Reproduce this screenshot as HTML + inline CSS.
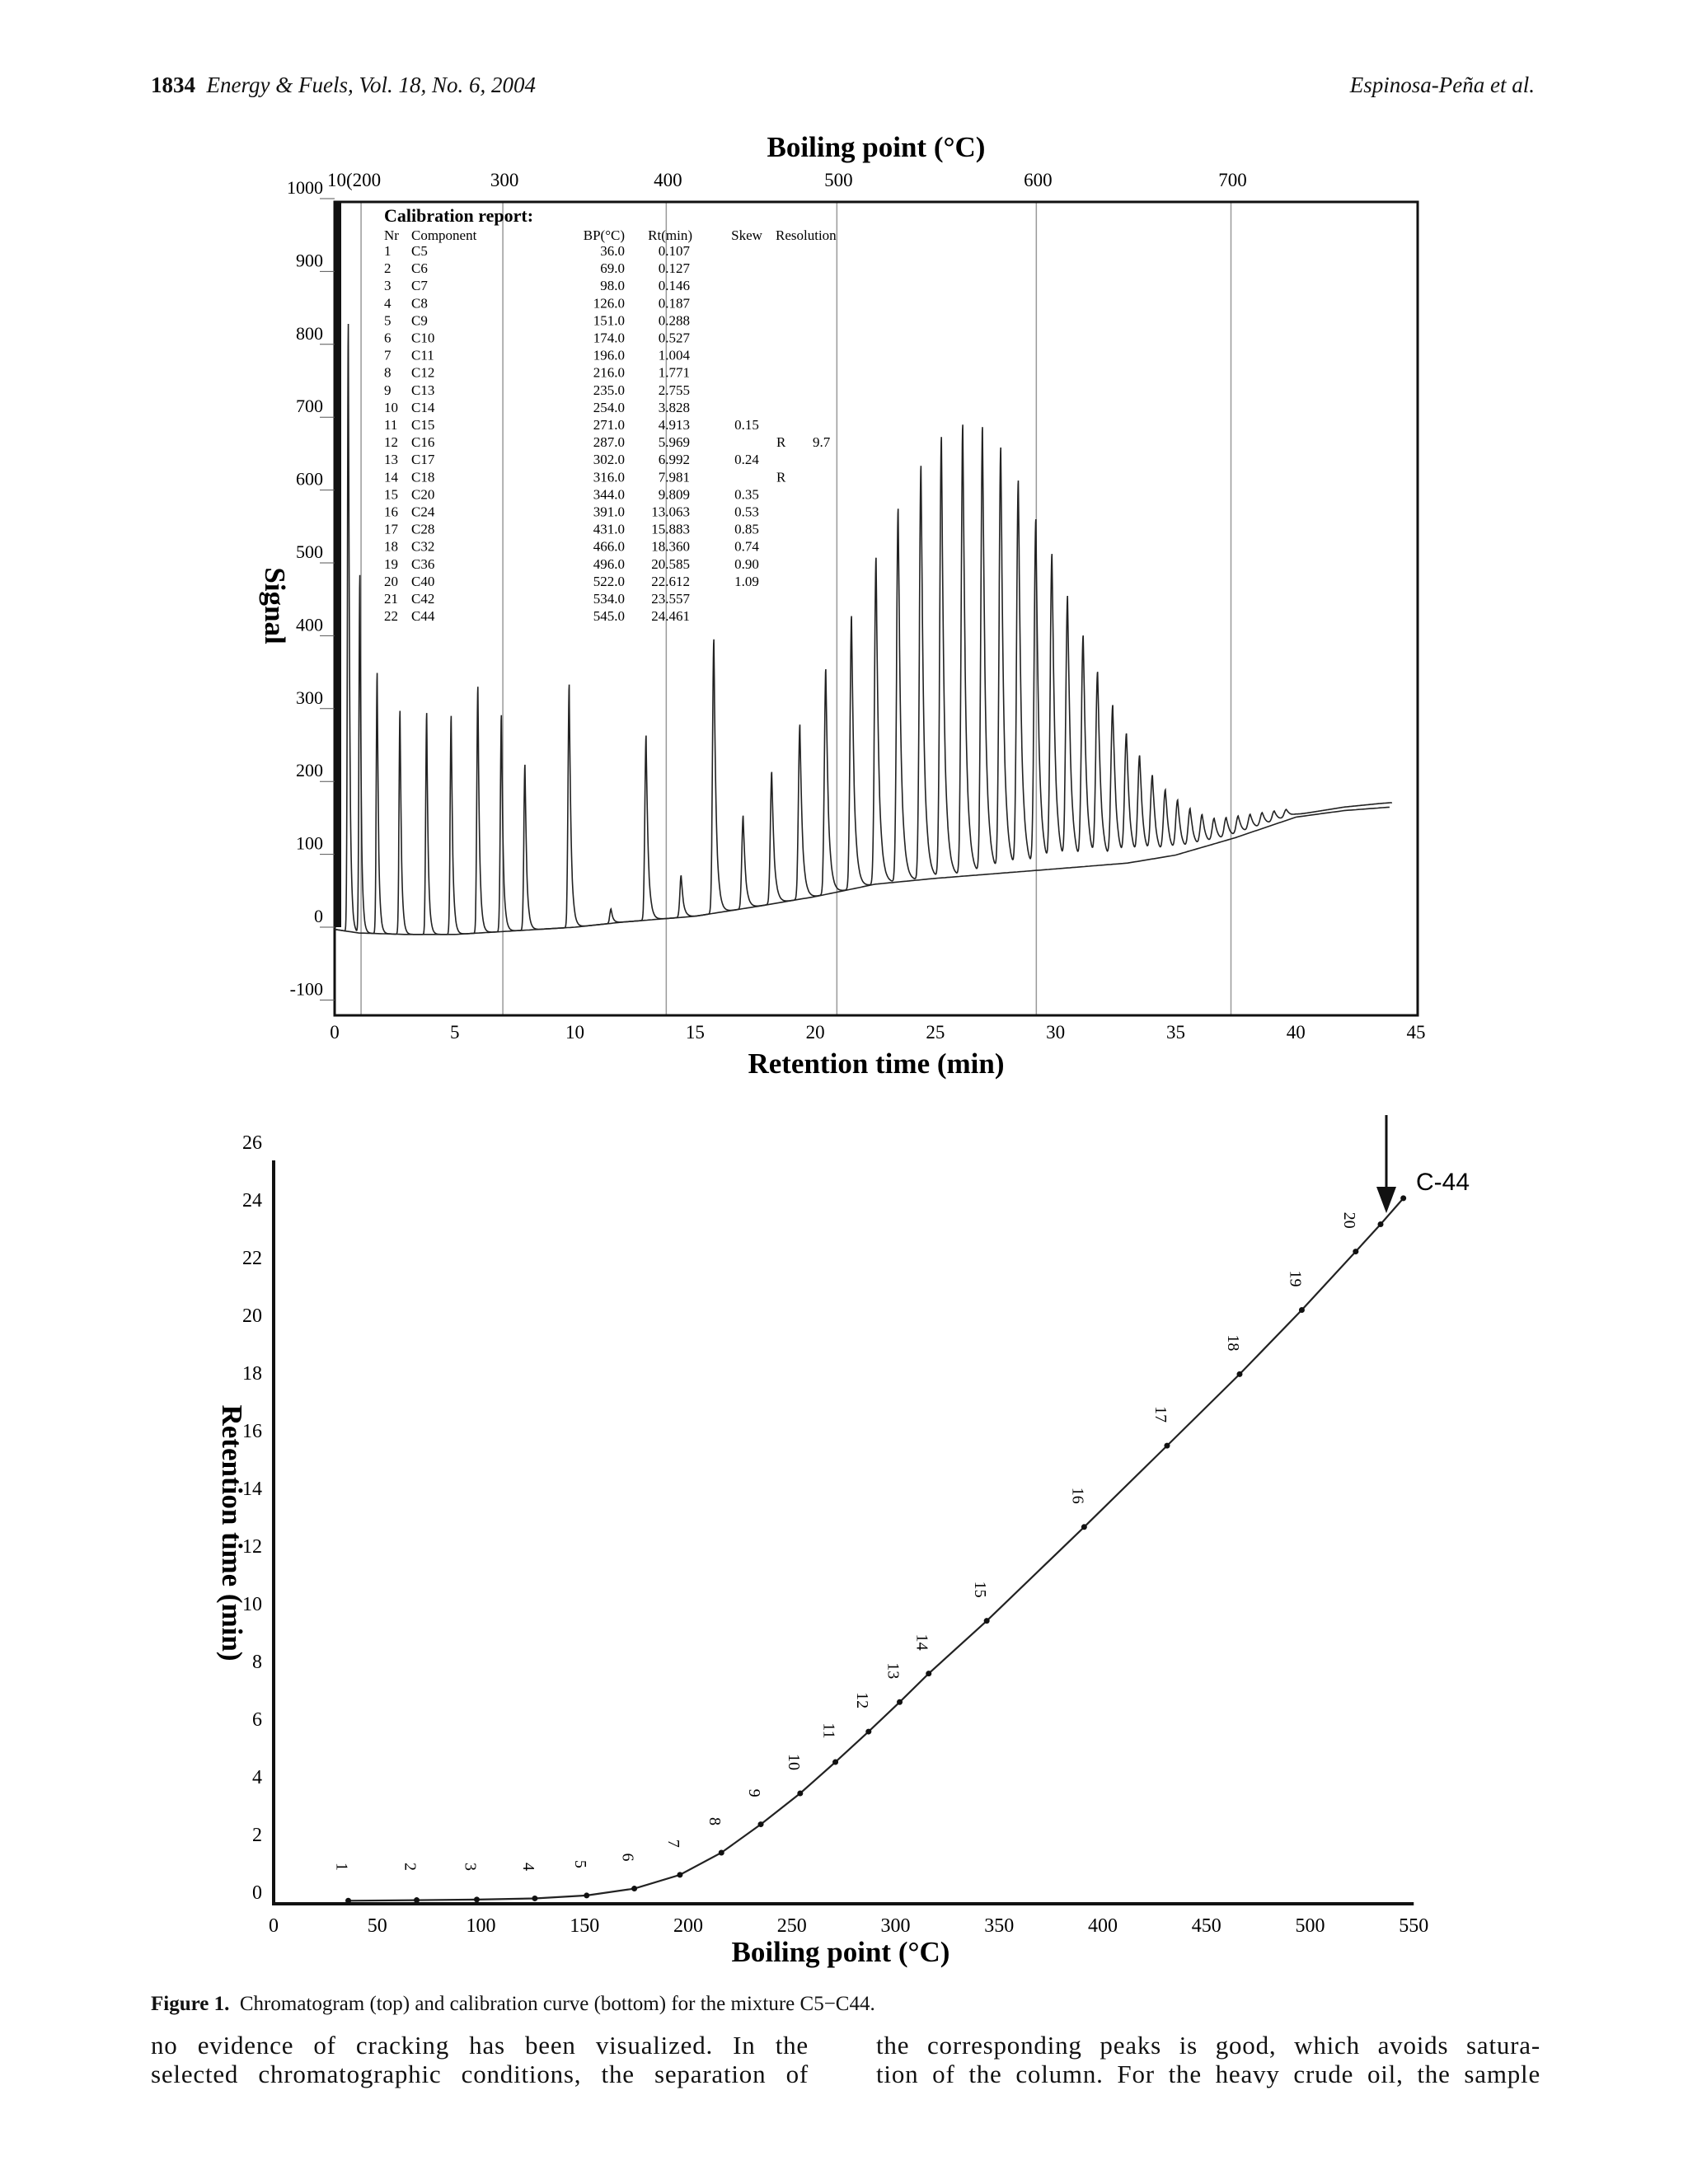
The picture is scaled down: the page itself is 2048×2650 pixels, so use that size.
<!DOCTYPE html>
<html><head><meta charset="utf-8"><style>
html,body{margin:0;padding:0;background:#fff;}
body{width:2048px;height:2650px;position:relative;overflow:hidden;font-family:"Liberation Serif",serif;color:#111;}
.hdr{position:absolute;top:88px;font-size:27px;}
.body{position:absolute;font-size:31px;line-height:35px;letter-spacing:0.8px;text-align:justify;text-align-last:justify;}
</style></head><body>
<div class="hdr" style="left:183px"><b>1834</b>&nbsp;&nbsp;<i>Energy &amp; Fuels, Vol. 18, No. 6, 2004</i></div>
<div class="hdr" style="right:186px"><i>Espinosa-Peña et al.</i></div>

<svg id="chrom" width="2048" height="2650" style="position:absolute;left:0;top:0" font-family="Liberation Serif, serif"></svg>

<div style="position:absolute;left:183px;top:2418px;font-size:25px;"><b>Figure 1.</b>&nbsp; Chromatogram (top) and calibration curve (bottom) for the mixture C5−C44.</div>
<div class="body" style="left:183px;top:2464px;width:798px">no evidence of cracking has been visualized. In the<br>selected chromatographic conditions, the separation of</div>
<div class="body" style="left:1063px;top:2464px;width:806px">the corresponding peaks is good, which avoids satura-<br>tion of the column. For the heavy crude oil, the sample</div>

<script>
// ---------- Chromatogram data ----------
const peakTimes = [0.57,1.05,1.77,2.72,3.83,4.85,5.96,6.94,7.92,9.76,11.5,12.96,14.42,15.78,17.0,18.19,19.36,20.44,21.51,22.53,23.45,24.4,25.25,26.14,26.96,27.72,28.45,29.18,29.85,30.5,31.15,31.75,32.38,32.95,33.5,34.03,34.57,35.08,35.6,36.1,36.6,37.1,37.6,38.1,38.6,39.1,39.6];
const peakHeights = [828,483,349,297,294,290,330,291,223,333,25,263,71,395,153,213,278,354,427,507,574,633,672,689,685,656,610,557,508,450,396,345,301,261,231,204,185,171,160,152,147,148,150,152,154,156,158];
const baseTimes = [0,1,3,5,7,10,12,15,17.5,20,22.5,25,30,33,35,37.5,40,42,44];
const baseValues = [-3,-8,-10,-10,-6,0,7,15,28,42,59,67,80,88,99,123,151,160,165];
const xTicks = [0,5,10,15,20,25,30,35,40,45];
const yTicks = [-100,0,100,200,300,400,500,600,700,800,900,1000];
const bpTicks = ["300","400","500","600","700"];
const bpTickTimes = [7.0,13.8,20.9,29.2,37.3];
// ---------- Calibration data ----------
const compNr = [1,2,3,4,5,6,7,8,9,10,11,12,13,14,15,16,17,18,19,20,21,22];
const compNames = ["C5","C6","C7","C8","C9","C10","C11","C12","C13","C14","C15","C16","C17","C18","C20","C24","C28","C32","C36","C40","C42","C44"];
const boilingPoints = [36,69,98,126,151,174,196,216,235,254,271,287,302,316,344,391,431,466,496,522,534,545];
const retTimes = [0.107,0.127,0.146,0.187,0.288,0.527,1.004,1.771,2.755,3.828,4.913,5.969,6.992,7.981,9.809,13.063,15.883,18.360,20.585,22.612,23.557,24.461];
const skews = ["","","","","","","","","","","0.15","","0.24","","0.35","0.53","0.85","0.74","0.90","1.09","",""];
const bpAxisTicks=[0,50,100,150,200,250,300,350,400,450,500,550];
const rtAxisTicks=[0,2,4,6,8,10,12,14,16,18,20,22,24,26];

const NS="http://www.w3.org/2000/svg";
const svg=document.getElementById('chrom');
function mk(tag,attrs,parent){const e=document.createElementNS(NS,tag);for(const k in attrs)e.setAttribute(k,attrs[k]);(parent||svg).appendChild(e);return e;}
function txt(s,attrs,parent){const e=mk('text',attrs,parent);e.textContent=s;return e;}
const X=t=>406+t*(1718-406)/45;
const Y=v=>1125-v*0.884;
function baseAt(t){for(let i=1;i<baseTimes.length;i++){if(t<=baseTimes[i]){const f=(t-baseTimes[i-1])/(baseTimes[i]-baseTimes[i-1]);return baseValues[i-1]+f*(baseValues[i]-baseValues[i-1]);}}return baseValues[baseValues.length-1];}

(function(){
const g=mk('g',{});


bpTickTimes.forEach((t,i)=>{
  const l=mk('line',{x1:X(t),x2:X(t),y1:245,y2:1232,stroke:'#999','stroke-width':1.5},g);
  
  
  const tl=txt(bpTicks[i],{x:X(t)+2,y:226,'font-size':23,'text-anchor':'middle'},g);
  
  
});
const gl=mk('line',{x1:X(1.1),x2:X(1.1),y1:245,y2:1232,stroke:'#999','stroke-width':1.5},g);


const t0=txt('10(200',{x:397,y:226,'font-size':23},g);


const fr=mk('rect',{x:406,y:245,width:1314,height:987,fill:'none',stroke:'#111','stroke-width':3},g);


yTicks.forEach(v=>{
  const tl=txt(String(v),{x:392,y:Y(v)-6,'font-size':22,'text-anchor':'end'},g);
  
  
  const tk=mk('line',{x1:388,x2:406,y1:Y(v),y2:Y(v),stroke:'#555','stroke-width':1},g);
  
  
});
xTicks.forEach(v=>{
  const tl=txt(String(v),{x:X(v),y:1260,'font-size':23,'text-anchor':'middle'},g);
  
  
});
let e=txt('Boiling point (°C)',{x:1063,y:190,'font-size':35,'font-weight':'bold','text-anchor':'middle'},g);


e=txt('Retention time (min)',{x:1063,y:1302,'font-size':35,'font-weight':'bold','text-anchor':'middle'},g);


e=txt('Signal',{x:0,y:0,'font-size':35,'font-weight':'bold','text-anchor':'middle',transform:'translate(322,735) rotate(90)'},g);


e=mk('rect',{x:X(0)+1,y:245,width:7,height:Y(0)-245,fill:'#111'},g);


let d='';
for(let t=0;t<=44;t+=0.1){d+=(t?'L':'M')+X(t).toFixed(1)+','+Y(baseAt(t)).toFixed(1);}
e=mk('path',{d:d,fill:'none',stroke:'#222','stroke-width':1.6},g);


d='';
for(let i=0;i<=4400;i++){
  const t=i/100;let v=baseAt(t);
  if(t>36)v+=Math.min(6,(t-36)*0.8);
  for(let k=0;k<peakTimes.length;k++){
    const dt=t-peakTimes[k];const amp=Math.max(0,peakHeights[k]-baseAt(peakTimes[k]));
    if(dt<-0.3||dt>2)continue;
    const sg=0.035+0.0012*peakTimes[k], tau=0.06+0.003*peakTimes[k];
    v+=amp*(dt<0?Math.exp(-(dt*dt)/(2*sg*sg)):Math.exp(-dt/tau)*0.85+0.15*Math.exp(-(dt*dt)/(2*sg*sg)));
  }
  d+=(i?'L':'M')+X(t).toFixed(1)+','+Y(v).toFixed(1);
}
e=mk('path',{d:d,fill:'none',stroke:'#222','stroke-width':1.6},g);


const tb=mk('g',{'font-size':17},g);


e=txt('Calibration report:',{x:466,y:269,'font-size':22,'font-weight':'bold'},tb);


const hy=291;
[['Nr',466,'start'],['Component',499,'start'],['BP(°C)',758,'end'],['Rt(min)',840,'end'],['Skew',906,'middle'],['Resolution',941,'start']].forEach(h=>{
  const el=txt(h[0],{x:h[1],y:hy,'text-anchor':h[2]},tb);
  
  
});
compNr.forEach((n,i)=>{
  const y=310+i*21.1;
  let el=txt(String(n),{x:466,y:y},tb);
  
  
  el=txt(compNames[i],{x:499,y:y},tb);
  
  
  el=txt(boilingPoints[i].toFixed(1),{x:758,y:y,'text-anchor':'end'},tb);
  
  
  el=txt(retTimes[i].toFixed(3),{x:837,y:y,'text-anchor':'end'},tb);
  
  
  if(skews[i]){el=txt(skews[i],{x:906,y:y,'text-anchor':'middle'},tb);
  
  }
});
e=txt('R',{x:942,y:310+11*21.1},tb);
e=txt('9.7',{x:986,y:310+11*21.1},tb);
e=txt('R',{x:942,y:310+13*21.1},tb);
})();

(function(){
const BX=b=>332+b*2.515;
const BY=r=>2310-r*35;
const g=mk('g',{});


let e=mk('line',{x1:332,x2:332,y1:BY(26)+8,y2:2312,stroke:'#111','stroke-width':4},g);

e=mk('line',{x1:330,x2:BX(550),y1:2310,y2:2310,stroke:'#111','stroke-width':4},g);

rtAxisTicks.forEach(v=>{
  const t=txt(String(v),{x:318,y:BY(v)-6,'font-size':24,'text-anchor':'end'},g);
  
});
bpAxisTicks.forEach(v=>{
  const t=txt(String(v),{x:BX(v),y:2344,'font-size':24,'text-anchor':'middle'},g);
  
});
e=txt('Boiling point (°C)',{x:1020,y:2380,'font-size':35,'font-weight':'bold','text-anchor':'middle'},g);

e=txt('Retention time (min)',{x:0,y:0,'font-size':35,'font-weight':'bold','text-anchor':'middle',transform:'translate(270,1860) rotate(90)'},g);

let d='';
boilingPoints.forEach((b,i)=>{d+=(i?'L':'M')+BX(b).toFixed(1)+','+BY(retTimes[i]).toFixed(1);});
e=mk('path',{d:d,fill:'none',stroke:'#222','stroke-width':2.2},g);

boilingPoints.forEach((b,i)=>{
  const c=mk('circle',{cx:BX(b),cy:BY(retTimes[i]),r:3.5,fill:'#111'},g);
  
  
  if(i<20){
    const ly=Math.min(BY(retTimes[i])-38,2265);
    const t=txt(String(compNr[i]),{x:0,y:0,'font-size':20,'text-anchor':'middle',transform:`translate(${BX(b)-14},${ly}) rotate(90)`},g);
    
    
  }
});
e=mk('line',{x1:1682,x2:1682,y1:1353,y2:1445,stroke:'#111','stroke-width':3},g);

e=mk('polygon',{points:'1670,1440 1694,1440 1682,1472',fill:'#111'},g);

e=txt('C-44',{x:1718,y:1444,'font-size':30,'font-family':'Liberation Sans, sans-serif'},g);

})();
</script>
</body></html>
